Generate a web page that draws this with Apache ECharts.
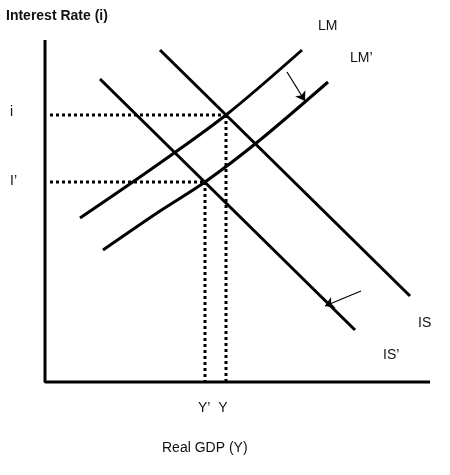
<!DOCTYPE html>
<html><head><meta charset="utf-8">
<script src="https://cdn.jsdelivr.net/npm/echarts@6/dist/echarts.min.js"></script>
<style>html,body{margin:0;background:#fff}#c{width:450px;height:475px}</style>
</head><body><div id="c"></div>
<script>
// coordinates in a 450x475 plane (y measured downward)
const axisLines = [[[45,40],[45,382],[430,382]]];
const LM = [[80,218],[150,170],[226,115],[302,50]];
const LMp = [[103,250],[160,211],[205,182],[260,140],[328,82]];
const IS = [[160,50],[410,296]];
const ISp = [[100,79],[355,330]];
const dottedI = [[50,115],[226,115]];
const dottedIp = [[50,182],[205,182]];
const dottedY = [[226,115],[226,382]];
const dottedYp = [[205,182],[205,382]];
const arrowLM = [[287,72],[305,101]];
const arrowIS = [[361,291],[325,306]];
const labels = [
  ['Interest Rate (i)',6,18,true],['LM',318,28,false],['LM\u2019',350,60,false],
  ['i',10,114,false],['I\u2019',10,183,false],['IS',418,325,false],['IS\u2019',383,357,false],
  ['Y\u2019  Y',198,410,false],['Real GDP (Y)',162,450,false]
];
const line = (d, extra={}) => Object.assign({type:'line',data:d,symbol:'none',silent:true,
  lineStyle:{color:'#000',width:3}},extra);
const dot = {lineStyle:{color:'#000',width:3,type:[3,3]}};
const series = [
  line(axisLines[0]),
  line(LM,{smooth:0.3}), line(LMp,{smooth:0.3}), line(IS), line(ISp),
  line(dottedI,dot), line(dottedIp,dot), line(dottedY,dot), line(dottedYp,dot),
  {type:'lines',coordinateSystem:'cartesian2d',silent:true,
   symbol:['none','arrow'],symbolSize:9,
   lineStyle:{color:'#000',width:1.2,opacity:1},
   data:[{coords:arrowLM},{coords:arrowIS}]}
];
const chart = echarts.init(document.getElementById('c'));
chart.setOption({
  animation:false,
  grid:{left:0,right:0,top:0,bottom:0},
  xAxis:{type:'value',min:0,max:450,show:false},
  yAxis:{type:'value',min:0,max:475,inverse:true,show:false},
  series,
  graphic: labels.map(([t,x,y,b])=>({type:'text',left:x,top:y-9,
    style:{text:t,fontSize:14,fontWeight:b?'bold':'normal',fontFamily:'Liberation Sans, Arial',fill:'#111'}}))
});
</script></body></html>
